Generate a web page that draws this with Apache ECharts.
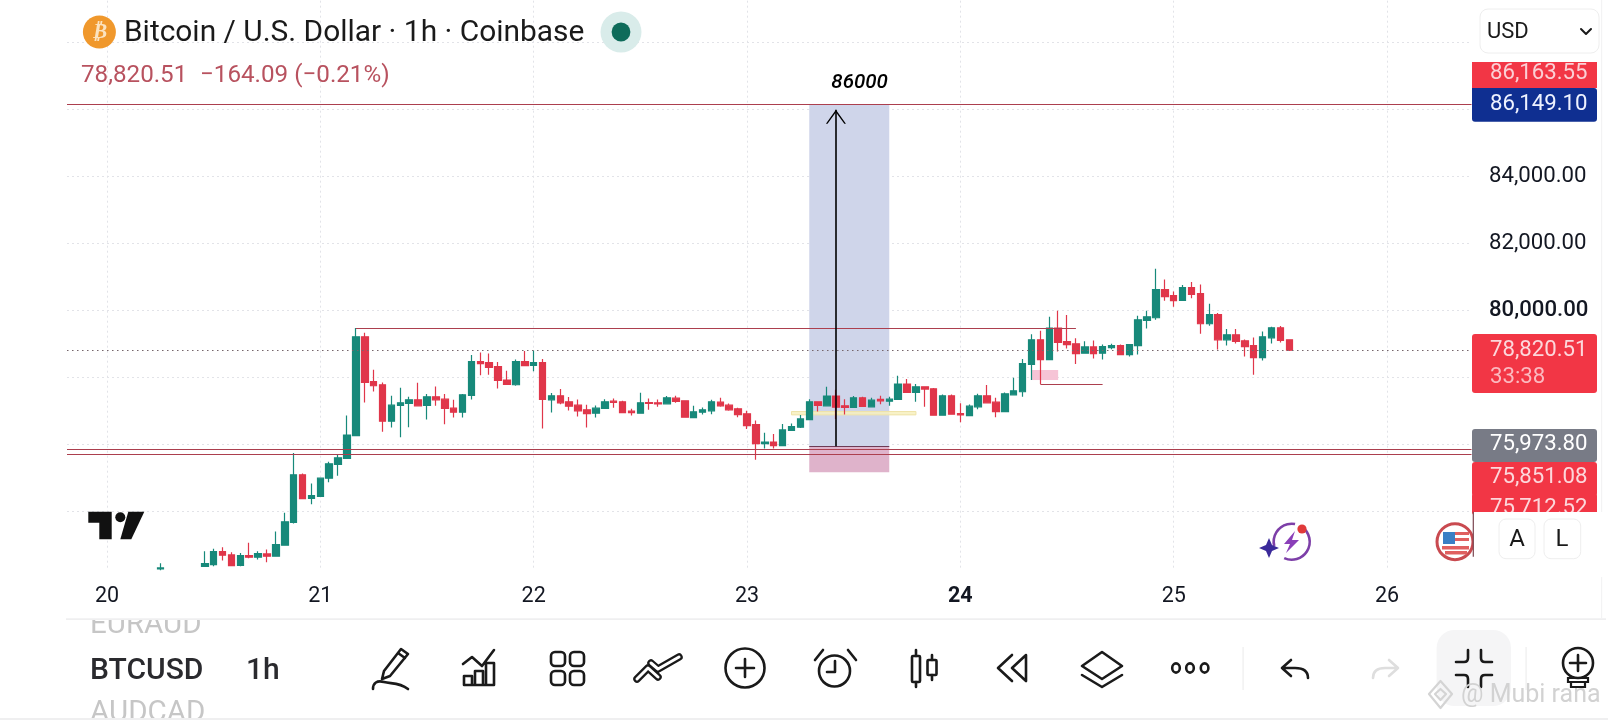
<!DOCTYPE html>
<html><head><meta charset="utf-8">
<script src="https://cdn.jsdelivr.net/npm/echarts@6/dist/echarts.min.js"></script>
<style>html,body{margin:0;padding:0;background:#fff}#c{width:1608px;height:720px}</style>
</head><body><div id="c"></div>
<script>
// hour offsets from 20th 00:00; the candles start at firstHour
const firstHour = 6;
const dayLabels = {0:'20',24:'21',48:'22',72:'23',96:'24',120:'25',144:'26'};
const opens = [72290,null,null,null,null,
72370,72420,72810,72710,72400,72690,72640,72740,72670,73000,
73680,75100,74400,74460,75000,75410,75590,76270,79220,77880,
77790,76700,77170,77230,77340,77170,77430,77360,77090,76970,
77470,78480,78450,78330,77930,77790,78480,78370,78450,77340,
77460,77280,77180,77040,76940,77080,77300,77280,77000,76940,
77260,77250,77220,77390,77310,76810,76970,77010,77270,77180,
77070,76920,76600,76030,76080,75970,76430,76520,76750,77280,
77160,77450,77160,77110,77400,77130,77350,77300,77350,77810,
77560,77730,77670,76880,77460,76930,76870,77130,77460,77270,
76990,77490,77580,78400,79130,78540,79480,79080,79010,78730,
78920,78730,78900,78960,78690,78960,79710,79790,80630,80450,
80310,80690,80510,79610,79880,79130,79280,79100,78960,78600,
79190,79490,79130];
const closes = [72320,null,null,null,null,
72450,72810,72700,72390,72690,72640,72750,72670,73020,73700,
75100,74390,74480,75000,75430,75610,76290,79220,77860,77760,
76700,77180,77250,77340,77160,77430,77340,77080,76970,77490,
78480,78420,78310,77920,77800,78480,78360,78450,77350,77460,
77250,77150,77010,76930,77090,77280,77260,76960,76960,77250,
77230,77220,77400,77290,76820,76980,77040,77280,77160,77040,
76900,76570,76030,76080,75970,76440,76540,76770,77280,77170,
77450,77120,77110,77400,77140,77330,77310,77360,77810,77560,
77730,77660,76880,77460,76910,76890,77150,77460,77250,76990,
77520,77610,78420,79130,78540,79480,79050,78990,78720,78920,
78720,78930,78960,78690,78990,79730,79820,80630,80420,80300,
80690,80490,79610,79880,79130,79280,79080,78930,78600,79220,
79490,79110,78820.51];
const lows = [72250,null,null,null,null,
72360,72370,72540,72370,72370,72610,72570,72490,72660,72990,
73650,74370,74220,74450,74880,75070,75580,76250,77260,77590,
76390,76510,76220,76520,77140,76750,77160,76610,76810,76810,
77350,78070,78090,77680,77800,77760,78340,78190,76480,76960,
77210,77020,76840,76510,76810,77070,77100,76940,76870,76930,
77040,77130,77200,77250,76810,76800,76900,76910,77130,77010,
76820,76470,75550,75890,75890,75950,76420,76500,76730,76990,
77160,76770,76900,77100,77130,77110,77210,77160,77340,77550,
77280,77130,76870,76870,76900,76670,76860,77060,77240,76820,
76980,77480,77430,77930,77810,78540,78780,78870,78410,78720,
78570,78540,78850,78670,78630,78690,79470,79730,80300,80120,
80300,80370,79310,79550,78840,78960,79020,78630,78090,78510,
79020,79050,78800];
const highs = [72460,null,null,null,null,
72820,72890,72940,72790,72770,73070,72820,72870,73410,73970,
75750,75140,74840,75020,75490,75700,76870,79480,79340,78240,
77860,77460,77700,77430,77850,77510,77740,77510,77340,77510,
78680,78750,78720,78470,78210,78540,78800,78810,78560,77540,
77660,77420,77350,77190,77170,77360,77380,77310,77070,77550,
77380,77350,77450,77460,77310,77160,77110,77340,77400,77230,
77100,77010,76720,76360,76320,76620,76630,76890,77360,77300,
77730,77640,77360,77450,77430,77400,77460,77430,78060,77960,
77810,77730,77690,77500,77500,77240,77200,77520,77780,77400,
77560,78000,78560,79300,79400,79820,80000,79870,79180,79090,
79110,78990,79010,78990,78990,79850,80000,81250,80930,80570,
80770,80860,80780,80210,79930,79450,79450,79140,79200,79380,
79520,79540,79130];
const lastPrice = 78820.51;
const targetLevel = 86149.10, arrowTip = 86000;
const supportLevels = [75851.08, 75712.52];
const rangeTop = 79480, minorLevel = 77810;
const boxBase = 75950, boxFloor = 75180;
const gridTicks = [74000,76000,78000,80000,82000,84000,86000,88000];
const shownLabels = [80000,82000,84000];
const pinkZone = [78230,77930], yellowZone = [76990,76890];

const hours = []; for (let h=-4;h<154;h++) hours.push(String(h));
const candles = hours.map(s=>{
  const i = +s-firstHour;
  return (i>=0 && i<opens.length && opens[i]!==null) ? [opens[i],closes[i],lows[i],highs[i]] : ['-','-','-','-'];
});

const UP='#17897a', DOWN='#e0364a', LINE='#ac3f4e', GRID='#e2e3e8', INK='#131722';
const Z=50;
function txt(text,x,y,font,fill,align,z){return {type:'text',z:z||Z,style:{text,x,y,font,fill,textAlign:align||'left',textVerticalAlign:'middle'}};}
function rect(x,y,w,h,fill,r,stroke,z,lw){return {type:'rect',z:z||Z,shape:{x,y,width:w,height:h,r:r||0},style:{fill:fill||'none',stroke:stroke||null,lineWidth:lw||1}};}
function circ(cx,cy,r,fill,stroke,lw,z){return {type:'circle',z:z||Z,shape:{cx,cy,r},style:{fill:fill||'none',stroke:stroke||null,lineWidth:lw||1}};}
let shapeN=0;
function pth(x,y,w,h,d,stroke,lw,fill,z){
  const name='glyph'+(shapeN++);
  echarts.graphic.registerShape(name,echarts.graphic.extendPath(d,{}));
  return {type:name,z:z||Z,x,y,style:{fill:fill||'none',stroke:stroke||null,lineWidth:lw||2.6,lineCap:'round',lineJoin:'round'}};
}
const F='Roboto, sans-serif';
const g=[];
// header
g.push(circ(99.4,32,16.5,'#f0982c'));
g.push(txt('₿',99.4,32.5,'italic bold 21px "DejaVu Sans"','#fbe3c0','center'));
g.push(txt('Bitcoin / U.S. Dollar · 1h · Coinbase',124,34,'29.9px '+F,'#1a1a1a'));
g.push(circ(621,32,20.5,'#d9ecea'));
g.push(circ(621,32,9.4,'#0e6b5a'));
g.push(txt('78,820.51',81,76,'24.2px '+F,'#b8525f'));
g.push(txt('−164.09 (−0.21%)',200,76,'24.2px '+F,'#b8525f'));
// currency box
g.push(rect(1480,9,119,44,'#fff',8,'#eeeeee'));
g.push(txt('USD',1487,32,'22px '+F,'#1a1a1a'));
g.push(pth(1581,29,10,5,'M0 0 L5 5 L10 0','#1a1a1a',2));
// price tags
function tag(x,y,w,h,fill,r){return rect(x,y,w,h,fill,r);}
const TF='22.2px '+F;
g.push(tag(1472,62,125,26,'#f23645',0));
g.push(txt('86,163.55',1490,73,TF,'#fbd0d5'));
g.push(tag(1472,88,125,33.7,'#0f2f91',[0,3,3,3]));
g.push(txt('86,149.10',1490,104,TF,'#eef2ff'));
g.push(tag(1472,334,125,59,'#f23645',3));
g.push(txt('78,820.51',1490,350,TF,'#fcd7db'));
g.push(txt('33:38',1490,377,TF,'#fbb9c0'));
g.push(tag(1472,429,125,33,'#787b86',3));
g.push(txt('75,973.80',1490,444,TF,'#ffffff'));
g.push(tag(1472,462,125,34,'#f23645',3));
g.push(txt('75,851.08',1490,477,TF,'#fcd7db'));
g.push(tag(1472,493,125,22,'#f23645',3));
g.push(txt('75,712.52',1490,508,TF,'#fcd7db'));
// TradingView mark
g.push({type:'polygon',z:Z,shape:{points:[[88.3,511.7],[111.7,511.7],[111.7,539.3],[99.3,539.3],[99.3,522.7],[88.3,522.7]]},style:{fill:'#111'}});
g.push(circ(120.3,517.3,5,'#111'));
g.push({type:'polygon',z:Z,shape:{points:[[128.3,511.7],[144.3,511.7],[131.3,539.3],[120.3,539.3]]},style:{fill:'#111'}});
// lightning badge
g.push({type:'arc',z:Z,shape:{cx:1291.7,cy:541.7,r:18,startAngle:-1.0,endAngle:2.0},style:{stroke:'#7d3fa8',lineWidth:2.6,fill:'none'}});
g.push({type:'arc',z:Z,shape:{cx:1291.7,cy:541.7,r:18,startAngle:2.9,endAngle:4.9},style:{stroke:'#7d3fa8',lineWidth:2.6,fill:'none'}});
g.push({type:'polygon',z:Z,shape:{points:[[1295,531],[1284,544],[1290,544],[1286,553],[1299,540],[1292,540]]},style:{fill:'#8a3fb8'}});
g.push({type:'polygon',z:Z,shape:{points:[[1269,538],[1272,545],[1279,548],[1272,551],[1269,558],[1266,551],[1259,548],[1266,545]]},style:{fill:'#3b2a9a'}});
g.push(circ(1302,529,4.6,'#e03a3a'));
// flag badge
g.push(circ(1455,541.7,18,'#fff','#c94a50',3));
g.push(rect(1443,532,12,12,'#3a7fc4'));
g.push(rect(1455,532,14,3,'#e06060'));
g.push(rect(1455,538,14,3,'#e06060'));
g.push(rect(1442,546,27,3.5,'#e06060'));
g.push(rect(1445,551,22,3.5,'#e06060'));
// cover right of pane
g.push(rect(1473.3,512,130,65,'#fff',0,null,60));
g.push({type:'line',z:61,shape:{x1:1473.3,y1:511.7,x2:1473.3,y2:556.7},style:{stroke:'#7a4450',lineWidth:1.2}});
g.push(rect(1499,519,36,39.7,'#fff',7,'#eeeeee',61));
g.push(rect(1544,519,36.7,39.7,'#fff',7,'#eeeeee',61));
g.push(txt('A',1517,540,'24px '+F,'#1a1a1a','center',62));
g.push(txt('L',1562,540,'24px '+F,'#1a1a1a','center',62));
// toolbar
g.push(txt('EURAUD',90,626,'400 29.5px '+F,'#c6c6c6','left',40));
g.push(rect(60,606,300,13,'#fff',0,null,41));
g.push(rect(66,618.2,1540,1.8,'#efeff0',0,null,42));
g.push(rect(1601,0,1.2,619,'#f3f3f4',0,null,42));
g.push(txt('BTCUSD',90,671,'500 30px '+F,'#2a2a2e'));
g.push(txt('1h',246,671,'500 30px '+F,'#2a2a2e'));
g.push(txt('AUDCAD',90,714,'400 29.5px '+F,'#c6c6c6','left',40));
g.push(rect(0,718,1608,2,'#efeff0',0,null,41));
// pencil
g.push(pth(377,648,31,31,'M7 23 L24 1 L31 6 L13 28 L5 31 Z M21 5 L28 10','#1a1a1a'));
g.push(pth(373,680,35,9,'M0 9 C0 3 4 0 11 2 C18 4 26 2 35 9','#1a1a1a'));
// analytics
g.push(pth(463,650,32,35,'M0 14 L9 7 L19 16 L31 0 M1 35 H31 M1 35 V26 H9 V35 M12 35 V21 H20 V35 M23 35 V13 H31 V35','#1a1a1a'));
// layout squares
[[551,652],[570,652],[551,671],[570,671]].forEach(p=>g.push(rect(p[0],p[1],14,14,'none',4,'#1a1a1a',Z,2.6)));
// drawing chevrons
g.push(pth(637,657,42,22,'M0 22 L11 11 L21 20 M14 6 L21 12 L42 0','#1a1a1a',7.5));
g.push(pth(637,657,42,22,'M0 22 L11 11 L21 20 M14 6 L21 12 L42 0','#ffffff',3));
// plus
g.push(circ(745,668,19.5,'none','#1a1a1a',2.6));
g.push(pth(736,659,18,18,'M9 0 V18 M0 9 H18','#1a1a1a'));
// alarm
g.push(circ(834.5,671,15.5,'none','#1a1a1a',2.6));
g.push(pth(827,661,8,11,'M8 0 V11 H0','#1a1a1a'));
g.push(pth(815,650,41,10,'M0 10 L8 0 M41 10 L33 0','#1a1a1a'));
// candles icon
g.push(rect(912,656,8,26,'none',1,'#1a1a1a',Z,2.6));
g.push(rect(927.5,660,9,15,'none',1,'#1a1a1a',Z,2.6));
g.push(pth(916,650,0.01,37,'M0 0 V6 M0 32 V37','#1a1a1a'));
g.push(pth(932,655,0.01,25,'M0 0 V5 M0 20 V25','#1a1a1a'));
// rewind
g.push(pth(998,655,28,26,'M14 0 L0 13 L14 26 M28 0 L14 13 L28 26 Z','#1a1a1a'));
// layers
g.push(pth(1082,652,40,27,'M20 0 L40 14 L20 27 L0 14 Z','#1a1a1a'));
g.push(pth(1082,675,40,12,'M0 0 L20 12 L40 0','#1a1a1a'));
// dots
[1176,1190,1204.6].forEach(x=>g.push({type:'ellipse',z:Z,shape:{cx:x,cy:668,rx:3.8,ry:4.6},style:{fill:'none',stroke:'#1a1a1a',lineWidth:2.6}}));
// separators
g.push(rect(1242.5,647,1.2,43,'#eeeeee'));
g.push(rect(1525.5,647,1.2,43,'#eeeeee'));
// undo / redo
g.push(pth(1282,660,26,18,'M9 0 L0 8 L9 16 M0 8 H13 Q26 8 26 18','#1a1a1a'));
g.push(pth(1373,660,25,18,'M16 0 L25 8 L16 16 M25 8 H12 Q0 8 0 18','#dedede'));
// shrink
g.push(rect(1436.6,630,74.4,76,'#f5f5f6',18,null,30));
g.push(pth(1456,650,36,12,'M12 0 V8 Q12 12 8 12 H0 M25 0 V8 Q25 12 29 12 H36','#1a1a1a'));
g.push(pth(1456,675,36,12,'M0 0 H8 Q12 0 12 4 V12 M36 0 H29 Q25 0 25 4 V12','#1a1a1a'));
// bulb
g.push(circ(1578,663,15,'none','#1a1a1a',2.6));
g.push(pth(1570,655,16,16,'M8 0 V16 M0 8 H16','#1a1a1a'));
g.push(rect(1568,678,20,4,'none',0,'#1a1a1a',Z,2.2));
g.push(rect(1571,682,14,5,'none',0,'#1a1a1a',Z,2.2));
// watermark
g.push(pth(1429,681,23,27,'M11.5 0 L23 13 L11.5 27 L0 13 Z M11.5 8 L17 13 L11.5 19 L6 13 Z','#d4d4d4',2.2,'none',70));
g.push(txt('@ Mubi rana',1461,696,'25px '+F,'#d2d2d2','left',70));

const chart = echarts.init(document.getElementById('c'));
chart.setOption({
  animation:false,
  backgroundColor:'#fff',
  textStyle:{fontFamily:'Roboto, sans-serif'},
  grid:{left:67,top:0.7,width:1404.5,height:567,containLabel:false},
  xAxis:{type:'category',data:hours,boundaryGap:true,
    axisLine:{show:false},axisTick:{show:false,alignWithLabel:true},
    axisLabel:{margin:18,fontSize:21.5,color:INK,interval:(i,v)=>dayLabels[v]!==undefined,hideOverlap:false,
      formatter:v=>v==='96'?'{b|'+dayLabels[v]+'}':(dayLabels[v]||''),
      rich:{b:{fontSize:21.5,fontWeight:'bold',color:INK}}},
    splitLine:{show:true,alignWithLabel:true,interval:(i,v)=>dayLabels[v]!==undefined,lineStyle:{color:GRID,type:[2,3],width:1}}},
  yAxis:{type:'value',position:'right',min:72328,max:89254,
    axisLine:{show:false},
    axisTick:{show:false,customValues:gridTicks},
    axisLabel:{margin:17.5,align:'left',fontSize:22.2,color:INK,customValues:shownLabels,
      formatter:v=>{const s=v.toLocaleString('en-US',{minimumFractionDigits:2,maximumFractionDigits:2});return v===80000?'{b|'+s+'}':s;},
      rich:{b:{fontSize:22.2,fontWeight:500,color:INK}}},
    splitLine:{show:true,lineStyle:{color:GRID,type:[2,3],width:1}}},
  series:[{
    type:'candlestick',data:candles,barWidth:7,
    itemStyle:{color:UP,color0:DOWN,borderColor:UP,borderColor0:DOWN,borderWidth:1.2},
    markArea:{silent:true,data:[
      [{xAxis:'79',yAxis:targetLevel,itemStyle:{color:'#cfd5ea'}},{xAxis:'88',yAxis:boxBase}],
      [{xAxis:'79',yAxis:boxBase,itemStyle:{color:'#dfb3cb'}},{xAxis:'88',yAxis:boxFloor}],
      [{xAxis:'104',yAxis:pinkZone[0],itemStyle:{color:'#f6c4d6'}},{xAxis:'107',yAxis:pinkZone[1]}],
      [{xAxis:'77',yAxis:yellowZone[0],itemStyle:{color:'rgba(247,240,190,0.85)',borderColor:'#efe3a8',borderWidth:1}},{xAxis:'91',yAxis:yellowZone[1]}]
    ]},
    markLine:{silent:true,symbol:'none',animation:false,label:{show:false},
      lineStyle:{color:LINE,width:1.2,type:'solid'},
      data:[
        {yAxis:targetLevel},
        {yAxis:supportLevels[0]},
        {yAxis:supportLevels[1]},
        {yAxis:lastPrice,lineStyle:{color:'#75656a',type:[1.5,3.5],width:1.2}},
        [{xAxis:'28',yAxis:rangeTop},{xAxis:'109',yAxis:rangeTop}],
        [{xAxis:'105',yAxis:minorLevel},{xAxis:'112',yAxis:minorLevel}],
        [{xAxis:'79',yAxis:boxBase,lineStyle:{color:'#6d3a55',width:1.2}},{xAxis:'88',yAxis:boxBase}],
        [{xAxis:'82',yAxis:boxBase,symbol:'none',lineStyle:{color:'#000',width:1.6}},
         {xAxis:'82',yAxis:arrowTip,symbol:'path://M0 14 L10 0 L20 14 L18.4 14 L10 2.6 L1.6 14 Z',symbolSize:[20,14],symbolOffset:[0,7]}]
      ]},
    markPoint:{silent:true,symbol:'circle',symbolSize:0,
      data:[{coord:['85',86806],value:'86000',label:{show:true,position:'inside',offset:[-3,0],formatter:'86000',fontSize:20.5,fontStyle:'italic',fontWeight:500,color:'#000'}}]}
  }],
  graphic:{elements:g}
});
</script></body></html>
